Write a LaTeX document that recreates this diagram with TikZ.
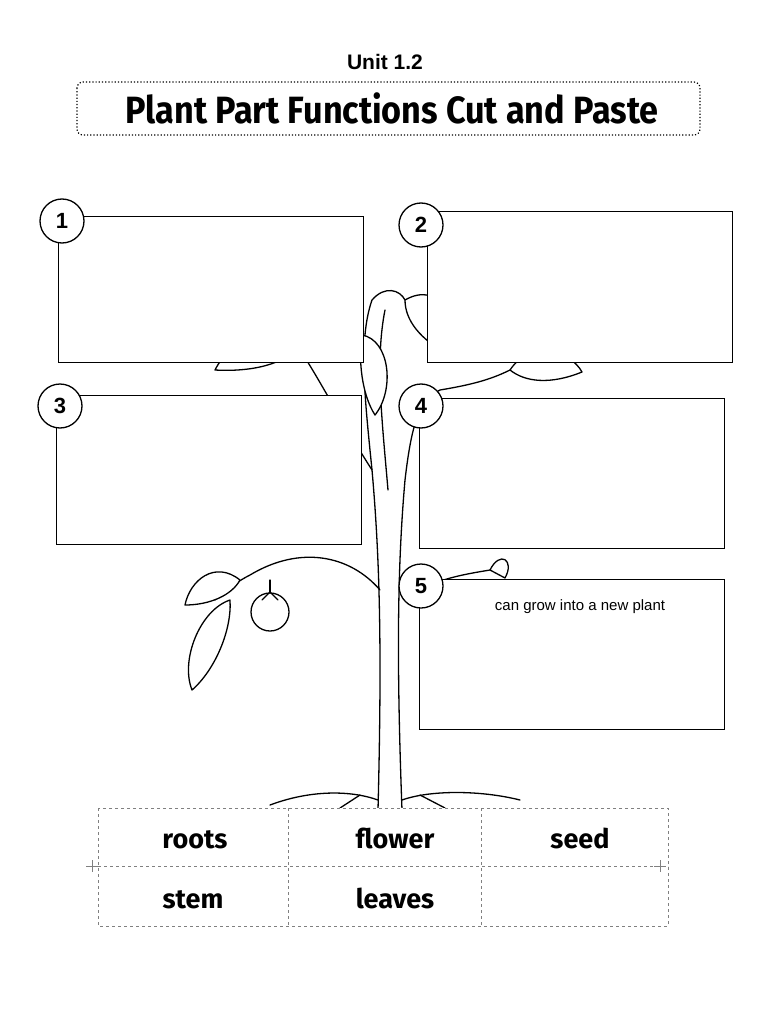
\documentclass[tikz,border=0pt]{standalone}
\usepackage{fontspec}
\setmainfont{Fira Sans}
\newfontfamily\arialf{Liberation Sans}
\begin{document}
\begin{tikzpicture}[x=1pt,y=-1pt,
 wbox/.style={draw,line width=1pt,fill=white},
 num/.style={circle,draw,line width=1.3pt,fill=white,minimum size=44pt,inner sep=0pt,font=\arialf\bfseries\fontsize{22}{22}\selectfont},
 word/.style={font=\bfseries\fontsize{27}{27}\selectfont,anchor=base},
 plant/.style={line width=1.3pt,line join=round,line cap=round},
 leaf/.style={plant,fill=white}]
\useasboundingbox (0,0) rectangle (768,1024);
\node[font=\arialf\bfseries\fontsize{21}{21}\selectfont] (unit) at (385,62) {Unit 1.2};
\draw[dotted,line width=1.2pt,rounded corners=6pt] (77,82) rectangle (700,135);
\node[font=\fontsize{38}{38}\selectfont\bfseries] (title) at (392,108) {\addfontfeatures{FakeStretch=0.9}Plant Part Functions Cut and Paste};
% plant
\draw[plant] (378,810) .. controls (382,650) and (380,560) .. (372,470) .. controls (365,400) and (358,340) .. (372,300) .. controls (385,285) and (400,290) .. (405,300);
\draw[plant] (402,810) .. controls (396,650) and (398,560) .. (405,480) .. controls (412,420) and (420,400) .. (440,390) .. controls (470,385) and (490,380) .. (510,370);
\draw[plant] (388,490) .. controls (382,420) and (375,360) .. (385,310);
\draw[plant] (380,590) .. controls (350,555) and (300,545) .. (250,575) .. controls (240,580) and (225,590) .. (215,600);
\draw[plant] (372,470) .. controls (340,420) and (320,380) .. (300,350);
\draw[plant] (270,580) -- (270,600);
\draw[plant] (405,600) .. controls (430,580) and (460,575) .. (490,570);
\draw[leaf] (405,300) .. controls (440,280) and (460,320) .. (450,355) .. controls (420,340) and (405,320) .. (405,300);
\draw[leaf] (510,370) .. controls (530,340) and (570,350) .. (582,372) .. controls (550,385) and (525,382) .. (510,370);
\draw[leaf] (300,345) .. controls (270,320) and (230,340) .. (215,370) .. controls (250,372) and (285,365) .. (300,345);
\draw[leaf] (300,345) .. controls (320,310) and (350,320) .. (355,340) .. controls (335,350) and (315,350) .. (300,345);
\draw[leaf] (362,335) .. controls (390,340) and (395,390) .. (375,415) .. controls (362,395) and (358,360) .. (362,335);
\draw[leaf] (240,580) .. controls (215,560) and (190,580) .. (185,605) .. controls (210,605) and (232,595) .. (240,580);
\draw[leaf] (230,600) .. controls (200,610) and (180,660) .. (192,690) .. controls (215,670) and (232,630) .. (230,600);
\draw[leaf] (490,570) .. controls (500,550) and (515,560) .. (505,578) -- cycle;
\draw[plant,fill=white] (270,612) circle (19);
\draw[plant] (262,600) -- (270,592) -- (278,600);
% roots
\draw[plant] (378,800) .. controls (350,790) and (310,790) .. (270,805);
\draw[plant] (402,800) .. controls (430,790) and (480,790) .. (520,800);
\draw[plant] (360,795) -- (340,808);
\draw[plant] (420,795) -- (445,808);
% boxes
\draw[wbox] (58,217) rectangle (363,362); \node[num] (n1) at (62,221) {1};
\draw[wbox] (427,212) rectangle (732,362); \node[num] (n2) at (421,225) {2};
\draw[wbox] (56,395) rectangle (361,544); \node[num] (n3) at (60,406) {3};
\draw[wbox] (419,398) rectangle (724,548); \node[num] (n4) at (421,406) {4};
\draw[wbox] (419,579) rectangle (724,729); \node[num] (n5) at (421,586) {5};
\node[font=\arialf\fontsize{15}{15}\selectfont] (t5) at (580,607) {can grow into a new plant};
% table
\fill[white] (98,808) rectangle (668,926);
\draw[dashed,gray,line width=0.6pt] (98,808) rectangle (668,926) (98,866) -- (668,866) (288,808) -- (288,926) (481,808) -- (481,926);
\draw[gray] (86,866) -- (98,866) (92,860) -- (92,872) (654,866) -- (666,866) (660,860) -- (660,872);
\node[word] (w1) at (195,848) {roots};
\node[word] (w2) at (395,848) {flower};
\node[word] (w3) at (580,848) {seed};
\node[word] (w4) at (193,908) {stem};
\node[word] (w5) at (395,908) {leaves};
\end{tikzpicture}
\end{document}
